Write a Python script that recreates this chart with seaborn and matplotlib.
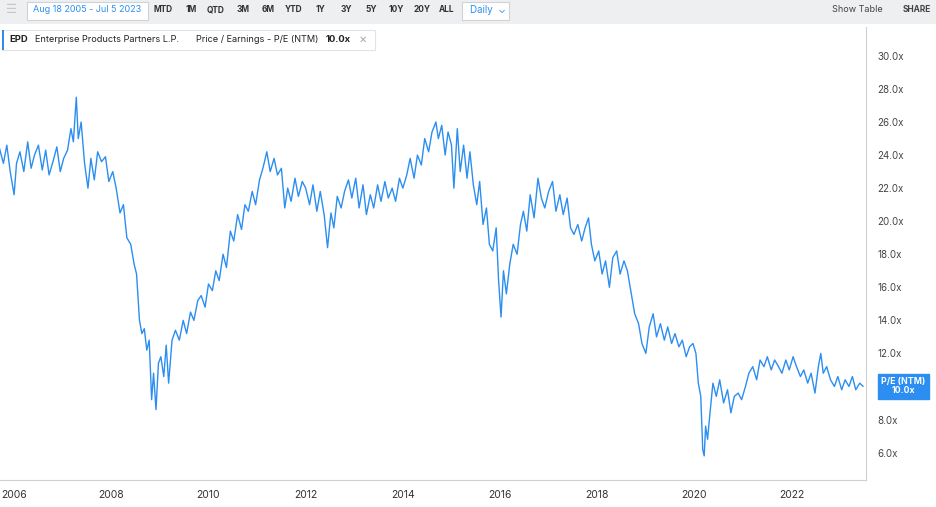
import matplotlib
matplotlib.use("Agg")
import matplotlib.pyplot as plt
import matplotlib.patches as mpatches
import seaborn as sns
import pandas as pd

# approximate P/E (NTM) readings, decimal year -> value
years = [
    2005.63, 2005.70, 2005.78, 2005.85, 2005.92, 2006.00, 2006.05, 2006.12, 2006.20, 2006.28,
    2006.35, 2006.42, 2006.50, 2006.58, 2006.65, 2006.72, 2006.80, 2006.88, 2006.95, 2007.02,
    2007.10, 2007.17, 2007.22, 2007.28, 2007.32, 2007.38, 2007.45, 2007.52, 2007.58, 2007.65,
    2007.72, 2007.80, 2007.88, 2007.95, 2008.03, 2008.10, 2008.18, 2008.25, 2008.32, 2008.40,
    2008.47, 2008.52, 2008.58, 2008.63, 2008.68, 2008.73, 2008.78, 2008.83, 2008.87, 2008.92,
    2008.97, 2009.02, 2009.08, 2009.13, 2009.18, 2009.25, 2009.32, 2009.40, 2009.48, 2009.55,
    2009.63, 2009.70, 2009.78, 2009.85, 2009.93, 2010.00, 2010.08, 2010.15, 2010.22, 2010.30,
    2010.37, 2010.45, 2010.52, 2010.60, 2010.68, 2010.75, 2010.82, 2010.90, 2010.97, 2011.05,
    2011.12, 2011.20, 2011.27, 2011.35, 2011.42, 2011.50, 2011.57, 2011.63, 2011.70, 2011.78,
    2011.85, 2011.93, 2012.00, 2012.08, 2012.15, 2012.23, 2012.30, 2012.38, 2012.45, 2012.52,
    2012.58, 2012.65, 2012.73, 2012.80, 2012.88, 2012.95, 2013.03, 2013.10, 2013.18, 2013.25,
    2013.33, 2013.40, 2013.48, 2013.55, 2013.63, 2013.70, 2013.78, 2013.85, 2013.93, 2014.00,
    2014.08, 2014.15, 2014.23, 2014.30, 2014.38, 2014.45, 2014.53, 2014.60, 2014.68, 2014.73,
    2014.80, 2014.87, 2014.93, 2015.00, 2015.05, 2015.12, 2015.18, 2015.25, 2015.32, 2015.38,
    2015.45, 2015.52, 2015.58, 2015.65, 2015.72, 2015.78, 2015.85, 2015.92, 2015.97, 2016.02,
    2016.07, 2016.13, 2016.20, 2016.27, 2016.35, 2016.42, 2016.48, 2016.55, 2016.62, 2016.70,
    2016.78, 2016.85, 2016.92, 2017.00, 2017.08, 2017.15, 2017.23, 2017.30, 2017.38, 2017.45,
    2017.52, 2017.60, 2017.68, 2017.75, 2017.82, 2017.88, 2017.95, 2018.03, 2018.10, 2018.17,
    2018.25, 2018.32, 2018.40, 2018.47, 2018.55, 2018.62, 2018.70, 2018.77, 2018.85, 2018.92,
    2019.00, 2019.07, 2019.15, 2019.22, 2019.30, 2019.38, 2019.45, 2019.53, 2019.60, 2019.68,
    2019.75, 2019.83, 2019.90, 2019.97, 2020.03, 2020.08, 2020.13, 2020.17, 2020.20, 2020.23,
    2020.27, 2020.32, 2020.38, 2020.45, 2020.52, 2020.60, 2020.68, 2020.75, 2020.82, 2020.90,
    2020.97, 2021.05, 2021.12, 2021.20, 2021.28, 2021.35, 2021.43, 2021.50, 2021.58, 2021.65,
    2021.73, 2021.80, 2021.88, 2021.95, 2022.03, 2022.10, 2022.18, 2022.25, 2022.33, 2022.40,
    2022.48, 2022.55, 2022.60, 2022.65, 2022.72, 2022.80, 2022.88, 2022.95, 2023.03, 2023.10,
    2023.18, 2023.25, 2023.32, 2023.40, 2023.47,
]
pe = [
    24.0, 24.4, 23.5, 24.6, 23.0, 21.6, 23.5, 24.2, 23.0, 24.8,
    23.2, 24.0, 24.6, 23.1, 24.3, 22.8, 23.6, 24.5, 23.0, 23.8,
    24.3, 25.6, 24.8, 27.5, 25.0, 26.0, 23.5, 22.0, 23.8, 22.5,
    24.2, 23.6, 23.9, 22.4, 23.0, 22.0, 20.5, 21.0, 19.0, 18.6,
    17.4, 16.8, 14.0, 13.2, 13.5, 12.2, 12.8, 9.2, 10.8, 8.6,
    11.4, 11.8, 10.6, 12.5, 10.2, 12.8, 13.4, 12.8, 14.0, 13.2,
    14.5, 14.0, 15.2, 15.5, 14.8, 16.2, 15.8, 17.0, 16.4, 18.0,
    17.2, 19.4, 18.8, 20.4, 19.5, 21.0, 20.6, 21.8, 21.0, 22.5,
    23.2, 24.2, 23.0, 23.8, 22.8, 23.2, 20.8, 22.0, 21.2, 22.6,
    21.5, 22.4, 22.0, 21.0, 22.2, 20.6, 21.8, 20.4, 18.4, 20.5,
    19.6, 21.5, 20.8, 21.8, 22.5, 21.4, 22.6, 20.8, 22.2, 20.4,
    21.6, 20.8, 22.2, 21.2, 22.4, 21.4, 22.0, 21.2, 22.6, 22.0,
    22.8, 23.8, 22.6, 24.0, 23.4, 25.0, 24.2, 25.4, 26.0, 25.0,
    25.8, 24.0, 25.4, 24.6, 22.0, 25.6, 23.0, 24.6, 22.6, 24.2,
    22.2, 21.0, 22.4, 19.8, 20.8, 18.6, 18.2, 19.6, 16.4, 14.2,
    17.0, 15.6, 17.4, 18.6, 18.0, 19.8, 20.6, 19.4, 21.6, 20.2,
    22.6, 21.4, 20.8, 21.8, 22.4, 20.6, 21.6, 20.4, 21.4, 19.6,
    19.2, 19.8, 18.8, 19.6, 20.2, 18.6, 17.6, 18.2, 16.8, 17.6,
    16.0, 17.8, 18.2, 16.8, 17.6, 17.0, 15.6, 14.4, 13.8, 12.6,
    12.0, 13.6, 14.4, 13.0, 13.8, 12.8, 13.6, 12.6, 13.2, 12.4,
    12.8, 11.8, 12.4, 12.6, 12.0, 10.2, 9.4, 6.2, 5.8, 7.6,
    6.8, 8.4, 10.2, 9.4, 10.4, 9.0, 9.8, 8.4, 9.4, 9.6,
    9.2, 10.0, 10.8, 11.2, 10.4, 11.6, 11.2, 11.8, 11.0, 11.6,
    11.2, 10.8, 11.6, 11.0, 11.8, 11.2, 10.6, 11.0, 10.2, 10.8,
    9.6, 11.2, 12.0, 10.8, 11.2, 10.4, 10.0, 10.6, 9.8, 10.4,
    10.0, 10.6, 9.8, 10.2, 10.0,
]
last_label = "10.0x"

y_ticks = [6, 8, 10, 12, 14, 16, 18, 20, 22, 24, 26, 28, 30]
x_ticks = [2006, 2008, 2010, 2012, 2014, 2016, 2018, 2020, 2022]

df = pd.DataFrame({"year": years, "pe": pe})

sns.set_style("white")
plt.rcParams["font.family"] = ["Inter", "DejaVu Sans"]

fig = plt.figure(figsize=(9.37, 5.07), dpi=100)
H = 507
ax = fig.add_axes([0, 27 / H, 866 / 937, (480 - 27) / H])

blue = "#2b8ef0"
sns.lineplot(data=df, x="year", y="pe", ax=ax, color=blue, linewidth=1.0)

ax.set_xlim(2005.71, 2023.53)
ax.set_ylim(4.34, 31.75)
ax.yaxis.tick_right()
ax.set_yticks(y_ticks)
ax.set_yticklabels([f"{v:.1f}x" for v in y_ticks], fontsize=7, color="#444")
ax.set_xticks(x_ticks)
ax.set_xticklabels([str(v) for v in x_ticks], fontsize=7.5, color="#333")
ax.tick_params(axis="x", length=0, pad=7)
ax.tick_params(axis="y", length=0, pad=8)
ax.set_xlabel("")
ax.set_ylabel("")
for side in ["top", "left"]:
    ax.spines[side].set_visible(False)
ax.spines["right"].set_color("#d0d0d0")
ax.spines["bottom"].set_color("#d0d0d0")

# last value tag on the right axis
ax.annotate(f"P/E (NTM)\n{last_label}", xy=(1.0, pe[-1]), xycoords=("axes fraction", "data"),
            xytext=(27, 0), textcoords="offset points", ha="center", va="center",
            fontsize=6.3, color="white", fontweight="bold", linespacing=1.0,
            bbox=dict(boxstyle="square,pad=0.4", fc=blue, ec=blue),
            annotation_clip=False)

# top toolbar
fig.patches.append(mpatches.Rectangle((0, (H - 24) / H), 1, 24 / H, transform=fig.transFigure,
                                      fc="#eeeff1", ec="none", zorder=0))
fig.patches.append(mpatches.Rectangle((27 / 937, (H - 20) / H), 121 / 937, 18 / H,
                                      transform=fig.transFigure, fc="white", ec="#cfd3d8", lw=0.8))
fig.patches.append(mpatches.Rectangle((462 / 937, (H - 20) / H), 47 / 937, 18 / H,
                                      transform=fig.transFigure, fc="white", ec="#cfd3d8", lw=0.8))
ty = (H - 10) / H
fig.text(87 / 937, ty, "Aug 18 2005 - Jul 5 2023", color=blue, fontsize=6.5, va="center", ha="center")
for lbl, px in [("MTD", 163), ("1M", 191), ("QTD", 216), ("3M", 243), ("6M", 268), ("YTD", 294),
                ("1Y", 320), ("3Y", 346), ("5Y", 371), ("10Y", 396), ("20Y", 422), ("ALL", 447)]:
    fig.text(px / 937, ty, lbl, fontsize=6, fontweight="bold", color="#333", ha="center", va="center")
fig.text(470 / 937, ty, "Daily  \u2304", color=blue, fontsize=7, va="center")
fig.text(832 / 937, ty, "Show Table", fontsize=6.5, color="#444", va="center")
fig.text(903 / 937, ty, "SHARE", fontsize=6, fontweight="bold", color="#444", va="center")
fig.text(6 / 937, ty, "\u2630", fontsize=9, color="#c8c8c8", va="center")

# legend box
fig.patches.append(mpatches.Rectangle((2 / 937, (H - 50) / H), 373 / 937, 20 / H,
                                      transform=fig.transFigure, fc="white", ec="#e3e3e3", lw=0.8))
fig.patches.append(mpatches.Rectangle((2 / 937, (H - 50) / H), 2.5 / 937, 20 / H,
                                      transform=fig.transFigure, fc=blue, ec="none"))
ly = (H - 40) / H
fig.text(9 / 937, ly, "EPD", fontsize=6.8, fontweight="bold", color="#222", va="center")
fig.text(35 / 937, ly, "Enterprise Products Partners L.P.", fontsize=6.6, color="#222", va="center")
fig.text(196 / 937, ly, "Price / Earnings - P/E (NTM)", fontsize=6.6, color="#222", va="center")
fig.text(326 / 937, ly, "10.0x", fontsize=6.8, fontweight="bold", color="#222", va="center")
fig.text(359 / 937, ly, "\u00d7", fontsize=9, color="#aaa", va="center")

fig.savefig("out.png", dpi=100)
